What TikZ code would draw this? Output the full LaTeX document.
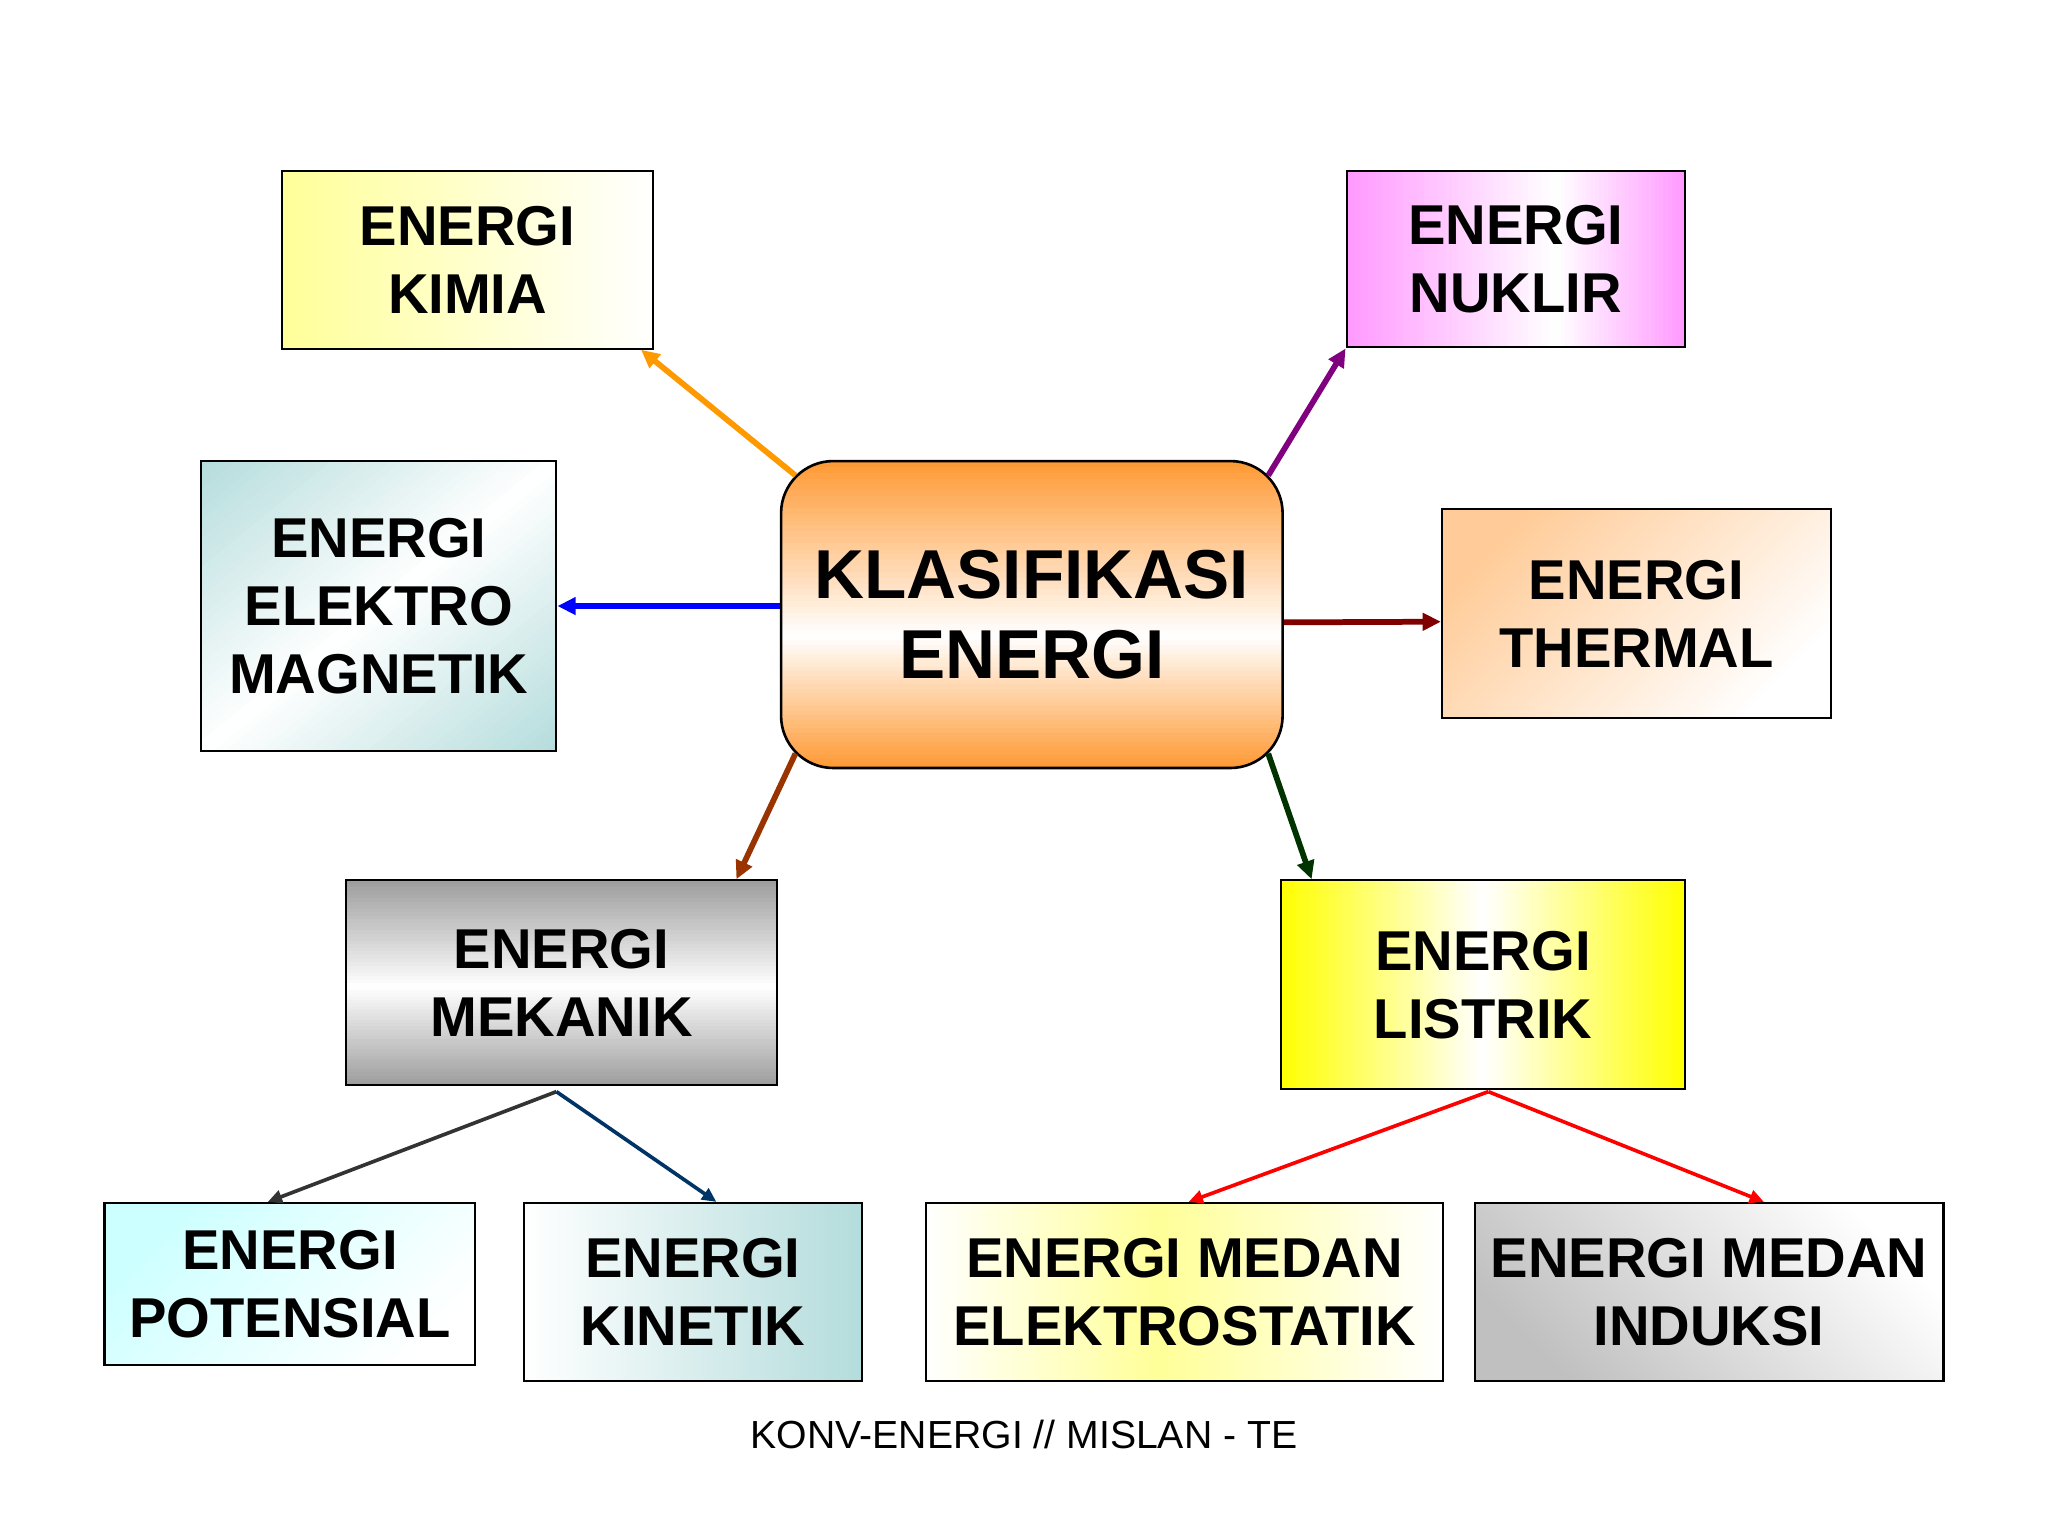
\documentclass[tikz,border=0pt]{standalone}
\usepackage{fontspec}
\setmainfont{Liberation Sans}
\usetikzlibrary{arrows.meta,calc}
\definecolor{kimiaY}{HTML}{FFFF99}
\definecolor{nukP}{HTML}{FF99FF}
\definecolor{tealL}{HTML}{B4DCDC}
\definecolor{oranC}{HTML}{FF9933}
\definecolor{peach}{HTML}{FFCC99}
\definecolor{grayM}{HTML}{9C9C9C}
\definecolor{yelL}{HTML}{FFFF00}
\definecolor{cyanL}{HTML}{CCFFFF}
\definecolor{yelS}{HTML}{FFFF99}
\definecolor{grayI}{HTML}{C0C0C0}
\definecolor{aOrange}{HTML}{FF9900}
\definecolor{aPurple}{HTML}{800080}
\definecolor{aBlue}{HTML}{0000FF}
\definecolor{aDRed}{HTML}{800000}
\definecolor{aBrown}{HTML}{993300}
\definecolor{aGreen}{HTML}{003300}
\definecolor{aGray}{HTML}{333333}
\definecolor{aNavy}{HTML}{003366}
\definecolor{aRed}{HTML}{FF0000}
\begin{document}
\begin{tikzpicture}[x=0.5pt,y=-0.5pt,
  box/.style={draw=black, line width=0.8pt, align=center, inner sep=0pt,
    font=\fontsize{21.5}{26}\selectfont\bfseries},
  hgrad/.style n args={4}{path picture={
    \foreach \i in {0,...,29}{
      \pgfmathsetmacro\ta{#4*\i/30}
      \pgfmathsetmacro\tb{#4*(\i+1)/30+0.006}
      \pgfmathtruncatemacro\pc{100*(1-(\i+0.5)/30)}
      \fill[sharp corners, #1!\pc!#2]
        ($(path picture bounding box.south west)!\ta!(path picture bounding box.south east)$) rectangle
        ($(path picture bounding box.north west)!\tb!(path picture bounding box.north east)$);
    }
    \foreach \i in {0,...,29}{
      \pgfmathsetmacro\ta{#4+(1-#4)*\i/30}
      \pgfmathsetmacro\tb{#4+(1-#4)*(\i+1)/30+0.006}
      \pgfmathtruncatemacro\pc{100*(\i+0.5)/30}
      \fill[sharp corners, #3!\pc!#2]
        ($(path picture bounding box.south west)!\ta!(path picture bounding box.south east)$) rectangle
        ($(path picture bounding box.north west)!\tb!(path picture bounding box.north east)$);
    }}},
  vgrad/.style n args={4}{path picture={
    \foreach \i in {0,...,29}{
      \pgfmathsetmacro\ta{#4*\i/30}
      \pgfmathsetmacro\tb{#4*(\i+1)/30+0.006}
      \pgfmathtruncatemacro\pc{100*(1-(\i+0.5)/30)}
      \fill[sharp corners, #1!\pc!#2]
        ($(path picture bounding box.north west)!\ta!(path picture bounding box.south west)$) rectangle
        ($(path picture bounding box.north east)!\tb!(path picture bounding box.south east)$);
    }
    \foreach \i in {0,...,29}{
      \pgfmathsetmacro\ta{#4+(1-#4)*\i/30}
      \pgfmathsetmacro\tb{#4+(1-#4)*(\i+1)/30+0.006}
      \pgfmathtruncatemacro\pc{100*(\i+0.5)/30}
      \fill[sharp corners, #3!\pc!#2]
        ($(path picture bounding box.north west)!\ta!(path picture bounding box.south west)$) rectangle
        ($(path picture bounding box.north east)!\tb!(path picture bounding box.south east)$);
    }}},
  dgrad/.style={path picture={
    \foreach \i in {0,...,59}{
      \pgfmathsetmacro\sa{\i/30}
      \pgfmathsetmacro\sb{\i/30+0.045}
      \pgfmathtruncatemacro\pc{100*abs(1-(\i+0.5)/30)}
      \fill[sharp corners, #1!\pc!white]
        ($(path picture bounding box.north west)!\sa!(path picture bounding box.north east)$) --
        ($(path picture bounding box.north west)!\sb!(path picture bounding box.north east)$) --
        ($(path picture bounding box.north west)!\sb!(path picture bounding box.south west)$) --
        ($(path picture bounding box.north west)!\sa!(path picture bounding box.south west)$) -- cycle;
    }}},
  bigarrow/.style={line width=2.2pt, -{Triangle[length=7pt,width=6.5pt]}},
  smallarrow/.style={line width=1.4pt, -{Triangle[length=5.5pt,width=5pt]}}]
\useasboundingbox (0,0) rectangle (1568,1176);
\fill[white] (0,0) rectangle (1568,1176);

\node[box, minimum width=142pt, minimum height=68pt,
  left color=kimiaY, right color=white] (kimia) at (358,199) {ENERGI\\KIMIA};
\node[box, minimum width=129.5pt, minimum height=67.5pt,
  hgrad={nukP}{white}{nukP}{0.62}] (nuklir) at (1160.5,198.5) {ENERGI\\NUKLIR};
\node[box, minimum width=136pt, minimum height=111pt,
  dgrad=tealL] (elektro) at (290,464) {ENERGI\\ELEKTRO\\MAGNETIK};
\node[box, minimum width=192pt, minimum height=117.5pt, rounded corners=20pt, line width=1pt,
  vgrad={oranC}{white}{oranC}{0.57},
  font=\fontsize{26.5}{30.5}\selectfont\bfseries] (center) at (790,470.5) {KLASIFIKASI\\ENERGI};
\node[box, minimum width=149pt, minimum height=80pt,
  top color=peach, bottom color=white, shading angle=45] (thermal) at (1253,470) {ENERGI\\THERMAL};
\node[box, minimum width=165pt, minimum height=78.5pt,
  vgrad={grayM}{white}{grayM}{0.52}] (mekanik) at (430,752.5) {ENERGI\\MEKANIK};
\node[box, minimum width=154.5pt, minimum height=80pt,
  hgrad={yelL}{white}{yelL}{0.5}] (listrik) at (1135.5,754) {ENERGI\\LISTRIK};
\node[box, minimum width=142pt, minimum height=62pt,
  top color=cyanL, bottom color=white, shading angle=45] (potensial) at (222,983) {ENERGI\\POTENSIAL};
\node[box, minimum width=129.5pt, minimum height=68pt,
  left color=white, right color=tealL] (kinetik) at (530.5,989) {ENERGI\\KINETIK};
\node[box, minimum width=198pt, minimum height=68pt,
  hgrad={white}{yelS}{white}{0.45}] (statik) at (907,989) {ENERGI MEDAN\\ELEKTROSTATIK};
\node[box, minimum width=179.5pt, minimum height=68pt,
  top color=white, bottom color=grayI, shading angle=-45] (induksi) at (1308.5,989) {ENERGI MEDAN\\INDUKSI};

\node[font=\fontsize{15}{18}\selectfont] (footer) at (784,1098) {KONV-ENERGI // MISLAN - TE};

\draw[bigarrow, aOrange] ([xshift=6pt,yshift=-6pt]center.north west) -- ([xshift=-5pt]kimia.south east);
\draw[bigarrow, aPurple] ([xshift=-6pt,yshift=-6pt]center.north east) -- (nuklir.south west);
\draw[bigarrow, aBlue] (center.west |- elektro.east) -- (elektro.east);
\draw[bigarrow, aDRed] ([yshift=-3pt]center.east) -- ([yshift=-3pt]thermal.west);
\draw[bigarrow, aBrown] ([xshift=6pt,yshift=6pt]center.south west) -- ([xshift=-16pt]mekanik.north east);
\draw[bigarrow, aGreen] ([xshift=-6pt,yshift=6pt]center.south east) -- ([xshift=12pt]listrik.north west);

\coordinate (mk) at ([xshift=-2pt,yshift=-2pt]mekanik.south);
\coordinate (ls) at ([xshift=2pt,yshift=-0.5pt]listrik.south);
\draw[smallarrow, aGray] (mk) -- ([xshift=-8.5pt]potensial.north);
\draw[smallarrow, aNavy] (mk) -- ([xshift=9pt]kinetik.north);
\draw[smallarrow, aRed] (ls) -- ([xshift=1.5pt]statik.north);
\draw[smallarrow, aRed] (ls) -- ([xshift=21pt]induksi.north);
\end{tikzpicture}
\end{document}
